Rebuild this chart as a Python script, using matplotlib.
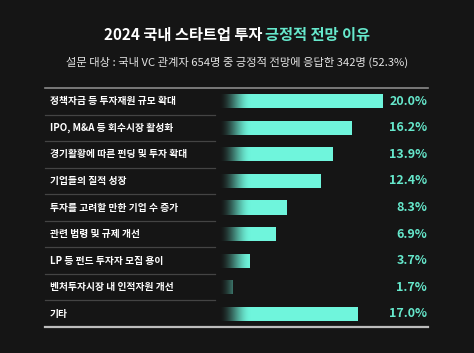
import numpy as np
import matplotlib
matplotlib.use("Agg")
import matplotlib.pyplot as plt
import matplotlib.transforms as mtransforms
from matplotlib.colors import to_rgb

plt.rcParams['font.family'] = ['Noto Sans CJK KR', 'DejaVu Sans']

# data
categories = ['정책자금 등 투자재원 규모 확대', 'IPO, M&A 등 회수시장 활성화',
              '경기활황에 따른 펀딩 및 투자 확대', '기업들의 질적 성장',
              '투자를 고려할 만한 기업 수 증가', '관련 법령 및 규제 개선',
              'LP 등 펀드 투자자 모집 용이', '벤처투자시장 내 인적자원 개선', '기타']
values = [20.0, 16.2, 13.9, 12.4, 8.3, 6.9, 3.7, 1.7, 17.0]
title_white = '2024 국내 스타트업 투자 '
title_teal = '긍정적 전망 이유'
subtitle = '설문 대상 : 국내 VC 관계자 654명 중 긍정적 전망에 응답한 342명 (52.3%)'

BG = '#151515'
TEAL = '#6ff5dc'
TEAL_TXT = '#66e8cc'
W, H = 474, 353

fig = plt.figure(figsize=(W / 100, H / 100), dpi=100, facecolor=BG)

def fx(px):
    return px / W

def fy(px):
    return 1 - px / H

# bar axes: x from 219px to 428px, y from 88px to 327px
ax = fig.add_axes([fx(219), fy(327), fx(428) - fx(219), (327 - 88) / H])
ax.set_facecolor(BG)
ax.set_xlim(0, (428 - 219) / 8.2)
ax.set_ylim(len(categories) - 0.5, -0.5)
ax.axis('off')

y = np.arange(len(categories))
bars = ax.barh(y, values, height=0.53, color=TEAL, zorder=2)

# dark-to-teal fade on the left part of every bar
fade_len = 3.8
bg_rgb = np.array(to_rgb(BG))
teal_rgb = np.array(to_rgb(TEAL))
s = np.linspace(0, 1, 256)
t = s * s * (3 - 2 * s)  # smoothstep
grad = (bg_rgb[None, :] * (1 - t[:, None]) + teal_rgb[None, :] * t[:, None])[None, :, :]
for b in bars:
    by = b.get_y()
    im = ax.imshow(grad, extent=[0, fade_len, by + b.get_height(), by],
                   aspect='auto', zorder=3, interpolation='bilinear')
    im.set_clip_path(b)

# labels + value texts
trans = mtransforms.blended_transform_factory(fig.transFigure, ax.transData)
for i, (cat, v) in enumerate(zip(categories, values)):
    fig.text(fx(50), i, cat, transform=trans, color='white', fontsize=7.0,
             fontweight='bold', va='center', ha='left')
    fig.text(fx(427), i, f'{v:.1f}%', transform=trans, color=TEAL_TXT, fontsize=9,
             fontweight='bold', va='center', ha='right')

# separators between rows (left part only)
for i in range(len(categories) - 1):
    fig.add_artist(plt.Line2D([fx(45), fx(215)], [i + 0.5, i + 0.5], transform=trans,
                              color='#444444', lw=0.9))

# top and bottom rules
fig.add_artist(plt.Line2D([fx(45), fx(428)], [fy(88), fy(88)], color='#8a8a8a', lw=1.2))
fig.add_artist(plt.Line2D([fx(45), fx(428)], [fy(327), fy(327)], color='#bdbdbd', lw=1.6))

# title in two colours, centred
renderer = fig.canvas.get_renderer()
t1 = fig.text(0, fy(35), title_white, color='white', fontsize=11, fontweight='bold',
              va='center', ha='left')
t2 = fig.text(0, fy(35), title_teal, color=TEAL_TXT, fontsize=11, fontweight='bold',
              va='center', ha='left')
w1 = t1.get_window_extent(renderer).width
w2 = t2.get_window_extent(renderer).width
x0 = (W * 0.5 - (w1 + w2) / 2) / W
t1.set_x(x0)
t2.set_x(x0 + w1 / W)

fig.text(0.5, fy(62), subtitle, color='#e4e4e4', fontsize=8.1, fontweight='medium',
         va='center', ha='center')

fig.savefig('out.png', dpi=100, facecolor=BG)
